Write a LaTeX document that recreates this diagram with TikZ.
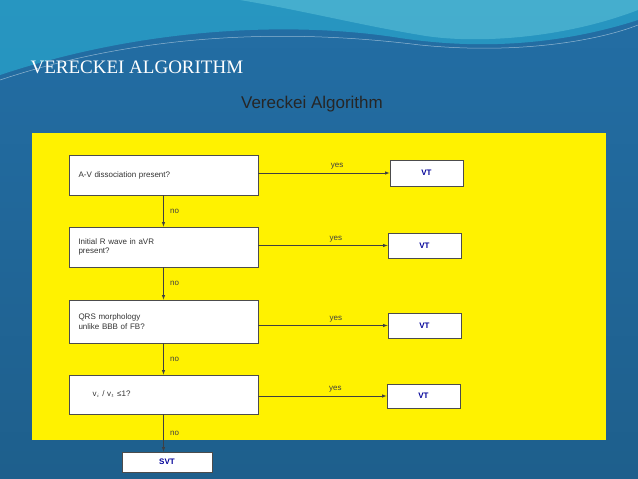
\documentclass[tikz,border=0pt]{standalone}
\usepackage{fontspec}
\setmainfont{Liberation Sans}
\newfontfamily\serifx{Liberation Serif}
\definecolor{bgtop}{RGB}{35,110,165}
\definecolor{bgbot}{RGB}{30,95,140}
\definecolor{wave1}{RGB}{40,160,200}
\definecolor{wave2}{RGB}{90,190,215}
\begin{document}
\begin{tikzpicture}[x=1pt,y=-1pt,
  qbox/.style={draw=black!70,fill=white,line width=0.8pt,align=left,font=\fontsize{8}{9.5}\selectfont,text=black!80,inner sep=0pt},
  rbox/.style={draw=black!70,fill=white,line width=0.8pt,font=\bfseries\fontsize{8}{9}\selectfont,text=blue!60!black,inner sep=0pt},
  lab/.style={font=\fontsize{8}{9}\selectfont,text=black!75},
  arr/.style={-latex,line width=0.6pt,draw=black!75}]
\useasboundingbox (0,0) rectangle (638,479);
\shade[top color=bgtop,bottom color=bgbot] (0,0) rectangle (638,479);
\fill[wave1,opacity=0.8] (0,0) -- (638,0) -- (638,20) .. controls (560,45) and (480,50) .. (400,38) .. controls (300,22) and (150,25) .. (0,75) -- cycle;
\fill[wave2,opacity=0.6] (240,0) -- (638,0) -- (638,10) .. controls (560,40) and (470,44) .. (420,35) .. controls (360,25) and (300,10) .. (240,0) -- cycle;
\draw[white,opacity=0.5,line width=0.5pt] (0,80) .. controls (150,30) and (300,30) .. (420,45) .. controls (520,55) and (600,40) .. (638,25);
\node[anchor=west,text=white,font=\serifx\fontsize{19}{20}\selectfont] (title) at (27,67) {VERECKEI ALGORITHM};
\node[text=black!85,font=\fontsize{17}{18}\selectfont] (sub) at (312,104) {Vereckei Algorithm};
\fill[yellow] (32,133) rectangle (606,440);
\node[qbox,minimum width=189,minimum height=40,text width=170] (q1) at (163.5,175) {A-V dissociation present?};
\node[qbox,minimum width=189,minimum height=40,text width=170] (q2) at (163.5,247) {Initial R wave in aVR\\present?};
\node[qbox,minimum width=189,minimum height=43,text width=170] (q3) at (163.5,321.5) {QRS morphology\\unlike BBB of FB?};
\node[qbox,minimum width=189,minimum height=39,text width=170] (q4) at (163.5,394.5) {\hspace*{14pt}v$_{\scriptscriptstyle i}$ / v$_{\scriptscriptstyle t}$ ≤1?};
\node[rbox,minimum width=73,minimum height=26] (v1) at (426.5,173) {VT};
\node[rbox,minimum width=73,minimum height=25] (v2) at (424.5,245.5) {VT};
\node[rbox,minimum width=73,minimum height=25] (v3) at (424.5,325.5) {VT};
\node[rbox,minimum width=73,minimum height=24] (v4) at (423.5,396) {VT};
\node[rbox,minimum width=90,minimum height=20] (svt) at (167,462) {SVT};
\foreach \a/\b in {q1/v1,q2/v2,q3/v3,q4/v4}{
  \draw[arr] (\a.east |- \b.west) -- node[lab,above,pos=0.6]{yes} (\b.west);}
\draw[arr] (q1.south) -- node[lab,right,xshift=3]{no} (q2.north);
\draw[arr] (q2.south) -- node[lab,right,xshift=3]{no} (q3.north);
\draw[arr] (q3.south) -- node[lab,right,xshift=3]{no} (q4.north);
\draw[arr] (q4.south) -- node[lab,right,xshift=3]{no} (q4.south |- svt.north);
\end{tikzpicture}
\end{document}
